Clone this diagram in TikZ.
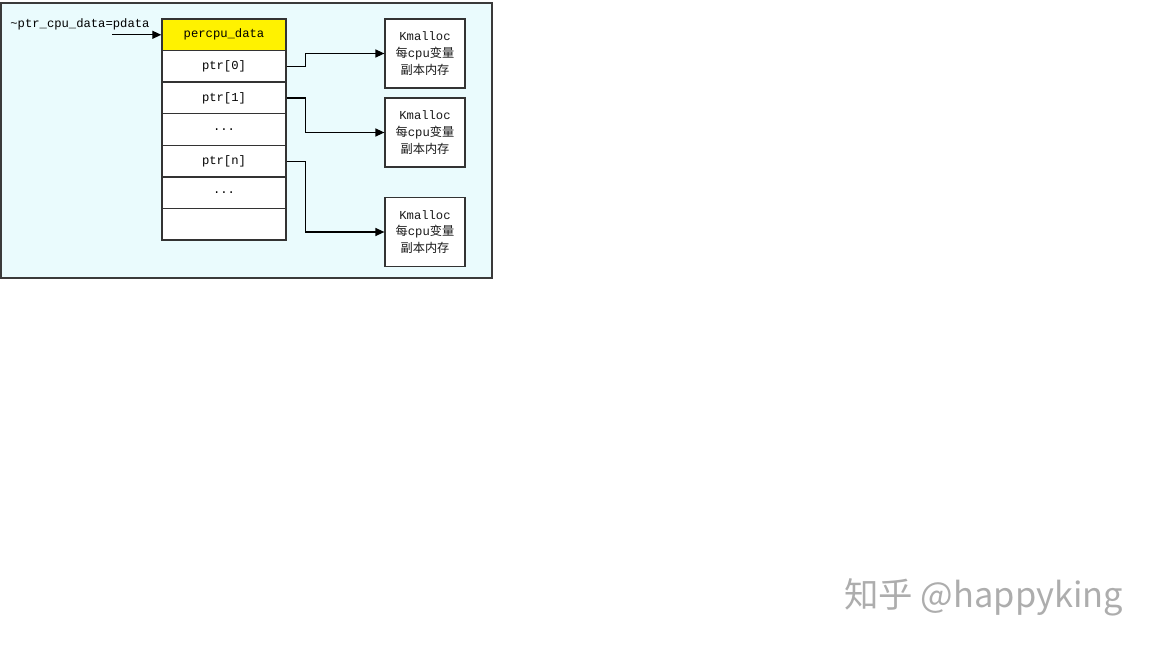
\documentclass[tikz,border=0pt]{standalone}
\usepackage{fontspec}
\setmonofont{Liberation Mono}
\newfontfamily\cjk{Noto Sans CJK SC}
\usetikzlibrary{arrows.meta}

\definecolor{panelbg}{HTML}{EAFBFD}
\definecolor{panelframe}{HTML}{3A3A3A}
\definecolor{cellyellow}{HTML}{FFF200}
\definecolor{wm}{HTML}{ADADAD}
\definecolor{ink}{HTML}{333333}

\tikzset{
  cell/.style={draw=ink, line width=0.7pt, fill=white, minimum width=62pt,
    minimum height=15.8pt, inner sep=0pt, text=black,
    font=\ttfamily\fontsize{6.1}{7}\selectfont},
  kbox/.style={draw=ink, line width=0.6pt, fill=white, minimum width=40pt,
    minimum height=34.5pt, inner sep=0pt, align=center, text=black!90,
    font=\fontsize{6.1}{8.3}\selectfont\ttfamily},
  arr/.style={draw=black, line width=0.6pt, -{Triangle[length=4.5pt,width=4pt]}},
  lbl/.style={inner sep=0pt, anchor=west, text=black,
    font=\ttfamily\fontsize{6.1}{7}\selectfont},
  wmark/.style={inner sep=0pt, anchor=west, text=wm,
    font=\cjk\fontsize{17.2}{20}\selectfont}
}

\begin{document}
\begin{tikzpicture}[x=0.5pt,y=-0.5pt]
\useasboundingbox (0,0) rectangle (1152,648);
\draw[panelframe, line width=0.6pt, fill=panelbg] (1,3) rectangle (492,278);

% stack
\node[cell, fill=cellyellow] (r0) at (224,34.8) {percpu\_data};
\node[cell] (r1) at (224,66.4) {ptr[0]};
\node[cell] (r2) at (224,97.9) {ptr[1]};
\node[cell] (r3) at (224,129.5) {...};
\node[cell] (r4) at (224,161.1) {ptr[n]};
\node[cell] (r5) at (224,192.6) {...};
\node[cell] (r6) at (224,224.2) {};

% kmalloc boxes
\node[kbox] (k1) at (425,53.5) {Kmalloc\\{\cjk 每}cpu{\cjk 变量}\\{\cjk 副本内存}};
\node[kbox] (k2) at (425,132.5) {Kmalloc\\{\cjk 每}cpu{\cjk 变量}\\{\cjk 副本内存}};
\node[kbox] (k3) at (425,232) {Kmalloc\\{\cjk 每}cpu{\cjk 变量}\\{\cjk 副本内存}};

% label and pointer
\node[lbl] (lbl) at (10,24) {\textasciitilde ptr\_cpu\_data=pdata};
\coordinate (lblend) at (112,34.8);
\draw[arr] (lblend) -- (r0.west);

% connectors
\draw[arr] (r1.east) -- ++(19,0) |- (k1.west);
\draw[arr] (r2.east) -- ++(19,0) |- (k2.west);
\draw[arr] (r4.east) -- ++(19,0) |- (k3.west);

% watermark
\node[wmark] (wmk) at (844,597) {知乎 @happyking};
\end{tikzpicture}
\end{document}
